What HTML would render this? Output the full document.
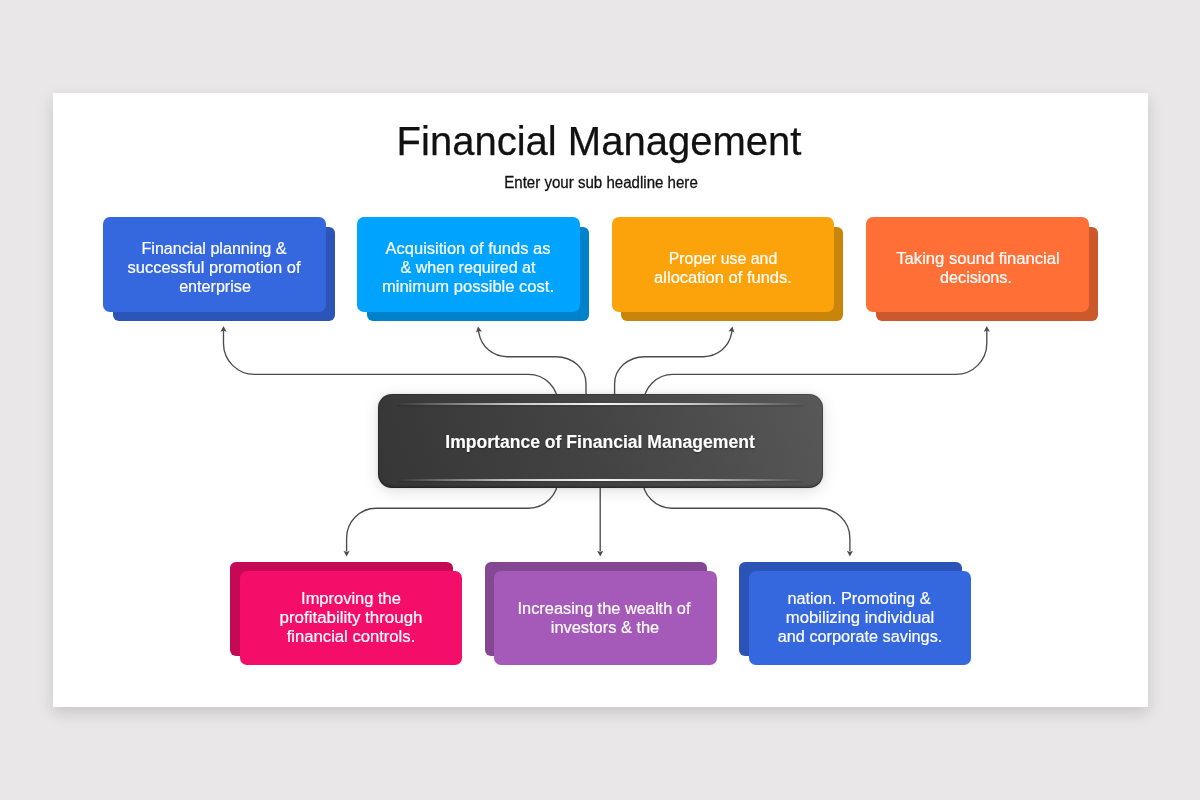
<!DOCTYPE html>
<html lang="en">
<head>
<meta charset="utf-8">
<title>Financial Management</title>
<style>
html,body{margin:0;padding:0;}
body{width:1200px;height:800px;background:#e9e7e8;position:relative;overflow:hidden;font-family:"Liberation Sans",sans-serif;}
.slide{position:absolute;left:53px;top:93px;width:1095px;height:614px;background:#fff;box-shadow:0 6px 15px rgba(0,0,0,.15);}
.abs{position:absolute;}
.box{position:absolute;border-radius:7px;}
.bk{border-radius:6px;}
.ln{position:absolute;white-space:nowrap;text-align:center;transform-origin:50% 50%;}
.texts{position:absolute;left:0;top:0;width:1200px;height:800px;will-change:transform;}
.center{position:absolute;left:378.2px;top:394.2px;width:444.7px;height:93.8px;border-radius:14px;background:linear-gradient(70deg,#363636 0%,#444444 50%,#585858 100%);box-shadow:0 3px 16px rgba(0,0,0,.13),0 0 3px rgba(0,0,0,.12),inset 0 0 0 1px rgba(0,0,0,.16),inset 0 -2px 2px rgba(0,0,0,.25);}
.hl{position:absolute;left:20px;right:20px;height:2px;background:linear-gradient(90deg,rgba(255,255,255,0),rgba(255,255,255,.7) 28%,rgba(255,255,255,.95) 50%,rgba(255,255,255,.7) 72%,rgba(255,255,255,0));box-shadow:0 1.5px 1.5px rgba(0,0,0,.14);}
</style>
</head>
<body>
<div class="slide"></div>

<!-- connectors -->
<svg class="abs" style="left:0;top:0" width="1200" height="800" viewBox="0 0 1200 800" fill="none" stroke="#4b4b4b" stroke-width="1.35">
  <path d="M223.5,330.5 V343.5 A31,31 0 0 0 254.5,374.4 H528.5 A29.5,29.5 0 0 1 558,403.9"/>
  <path d="M586,400 V383.7 A30,27 0 0 0 556,356.7 H507 A28.5,28.5 0 0 1 478.9,333.2 L478.4,330.5"/>
  <path d="M614.6,400 V383.7 A30,27 0 0 1 644.6,356.7 H703.5 A28.5,28.5 0 0 0 731.6,333.2 L732.1,330.5"/>
  <path d="M986.8,330.5 V343.5 A31,31 0 0 1 955.8,374.4 H673 A29.5,29.5 0 0 0 643.5,403.9"/>
  <path d="M346.6,551.5 V538 A29.5,29.8 0 0 1 376.1,508.2 H528.5 A29.5,29.5 0 0 0 558,478.7"/>
  <path d="M600.2,480 V551.5"/>
  <path d="M849.9,551.5 V538 A30.5,29.8 0 0 0 819.4,508.2 H672 A29.5,29.5 0 0 1 642.5,478.7"/>
  <g fill="#4b4b4b" stroke="none">
    <path transform="rotate(0 223.5 326.1)" d="M223.5,326.1 l3.05,5.7 l-3.05,-1.1 l-3.05,1.1z"/>
    <path transform="rotate(-10 478.0 326.4)" d="M478.0,326.4 l3.05,5.7 l-3.05,-1.1 l-3.05,1.1z"/>
    <path transform="rotate(10 732.4 326.4)" d="M732.4,326.4 l3.05,5.7 l-3.05,-1.1 l-3.05,1.1z"/>
    <path transform="rotate(0 986.8 326.1)" d="M986.8,326.1 l3.05,5.7 l-3.05,-1.1 l-3.05,1.1z"/>
    <path d="M346.6,556.6 l3.1,-5.8 l-3.1,1.1 l-3.1,-1.1z"/>
    <path d="M600.2,556.6 l3.1,-5.8 l-3.1,1.1 l-3.1,-1.1z"/>
    <path d="M849.9,556.6 l3.1,-5.8 l-3.1,1.1 l-3.1,-1.1z"/>
  </g>
</svg>

<!-- top row -->
<div class="box bk" style="left:112.7px;top:226.6px;width:222.2px;height:94.1px;background:#2c55b8"></div>
<div class="box" style="left:103.0px;top:217.1px;width:222.8px;height:94.7px;background:#3567de"></div>
<div class="box bk" style="left:367.0px;top:226.6px;width:222.2px;height:94.1px;background:#0081cc"></div>
<div class="box" style="left:357.3px;top:217.1px;width:222.8px;height:94.7px;background:#00a3fe"></div>
<div class="box bk" style="left:621.3px;top:226.6px;width:222.2px;height:94.1px;background:#c8850a"></div>
<div class="box" style="left:611.6px;top:217.1px;width:222.8px;height:94.7px;background:#fca20b"></div>
<div class="box bk" style="left:875.6px;top:226.6px;width:222.2px;height:94.1px;background:#cc592c"></div>
<div class="box" style="left:865.9px;top:217.1px;width:222.8px;height:94.7px;background:#ff6f36"></div>

<!-- center -->
<div class="center">
  <div class="hl" style="top:8.6px"></div>
  <div class="hl" style="top:84.8px"></div>
</div>

<!-- bottom row -->
<div class="box bk" style="left:230.2px;top:561.5px;width:222.6px;height:94px;background:#c40a55"></div>
<div class="box" style="left:239.5px;top:570.8px;width:222.5px;height:94.1px;background:#f50d6a"></div>
<div class="box bk" style="left:484.6px;top:561.5px;width:222.6px;height:94px;background:#844893"></div>
<div class="box" style="left:494.1px;top:570.8px;width:222.5px;height:94.1px;background:#a55ab9"></div>
<div class="box bk" style="left:739.1px;top:561.5px;width:222.6px;height:94px;background:#2b54b6"></div>
<div class="box" style="left:748.6px;top:570.8px;width:222.5px;height:94.1px;background:#3567de"></div>

<!-- text -->
<div class="texts">
<div class="ln" id="t" style="left:599.30px;top:116.84px;font-size:40px;line-height:48px;font-weight:normal;color:#111;transform:translateX(-50%) scaleX(1.0004);-webkit-text-stroke:0.25px #111">Financial Management</div>
<div class="ln" id="s" style="left:600.63px;top:172.86px;font-size:16px;line-height:19px;font-weight:normal;color:#111;transform:translateX(-50%) scaleX(0.9419);-webkit-text-stroke:0.3px #111">Enter your sub headline here</div>
<div class="ln" id="a1" style="left:213.91px;top:238.96px;font-size:16px;line-height:19px;font-weight:normal;color:#fff;transform:translateX(-50%) scaleX(1.0069);-webkit-text-stroke:0.2px #fff">Financial planning &amp;</div>
<div class="ln" id="a2" style="left:213.91px;top:257.96px;font-size:16px;line-height:19px;font-weight:normal;color:#fff;transform:translateX(-50%) scaleX(1.0287);-webkit-text-stroke:0.2px #fff">successful promotion of</div>
<div class="ln" id="a3" style="left:214.69px;top:276.96px;font-size:16px;line-height:19px;font-weight:normal;color:#fff;transform:translateX(-50%) scaleX(1.0079);-webkit-text-stroke:0.2px #fff">enterprise</div>
<div class="ln" id="b1" style="left:467.94px;top:238.96px;font-size:16px;line-height:19px;font-weight:normal;color:#fff;transform:translateX(-50%) scaleX(1.0293);-webkit-text-stroke:0.2px #fff">Acquisition of funds as</div>
<div class="ln" id="b2" style="left:467.69px;top:257.96px;font-size:16px;line-height:19px;font-weight:normal;color:#fff;transform:translateX(-50%) scaleX(1.0059);-webkit-text-stroke:0.2px #fff">&amp; when required at</div>
<div class="ln" id="b3" style="left:467.57px;top:276.96px;font-size:16px;line-height:19px;font-weight:normal;color:#fff;transform:translateX(-50%) scaleX(1.0354);-webkit-text-stroke:0.2px #fff">minimum possible cost.</div>
<div class="ln" id="c1" style="left:722.69px;top:248.96px;font-size:16px;line-height:19px;font-weight:normal;color:#fff;transform:translateX(-50%) scaleX(0.9921);-webkit-text-stroke:0.2px #fff">Proper use and</div>
<div class="ln" id="c2" style="left:723.27px;top:267.96px;font-size:16px;line-height:19px;font-weight:normal;color:#fff;transform:translateX(-50%) scaleX(1.0329);-webkit-text-stroke:0.2px #fff">allocation of funds.</div>
<div class="ln" id="d1" style="left:978.06px;top:248.96px;font-size:16px;line-height:19px;font-weight:normal;color:#fff;transform:translateX(-50%) scaleX(1.0379);-webkit-text-stroke:0.2px #fff">Taking sound financial</div>
<div class="ln" id="d2" style="left:975.95px;top:267.96px;font-size:16px;line-height:19px;font-weight:normal;color:#fff;transform:translateX(-50%) scaleX(1.0088);-webkit-text-stroke:0.2px #fff">decisions.</div>
<div class="ln" id="e1" style="left:350.84px;top:588.96px;font-size:16px;line-height:19px;font-weight:normal;color:#fff;transform:translateX(-50%) scaleX(1.0303);-webkit-text-stroke:0.2px #fff">Improving the</div>
<div class="ln" id="e2" style="left:350.62px;top:607.96px;font-size:16px;line-height:19px;font-weight:normal;color:#fff;transform:translateX(-50%) scaleX(1.0571);-webkit-text-stroke:0.2px #fff">profitability through</div>
<div class="ln" id="e3" style="left:350.77px;top:626.96px;font-size:16px;line-height:19px;font-weight:normal;color:#fff;transform:translateX(-50%) scaleX(1.0396);-webkit-text-stroke:0.2px #fff">financial controls.</div>
<div class="ln" id="f1" style="left:603.78px;top:598.96px;font-size:16px;line-height:19px;font-weight:normal;color:#fff;transform:translateX(-50%) scaleX(1.0235);-webkit-text-stroke:0.2px #fff">Increasing the wealth of</div>
<div class="ln" id="f2" style="left:604.81px;top:617.96px;font-size:16px;line-height:19px;font-weight:normal;color:#fff;transform:translateX(-50%) scaleX(1.0252);-webkit-text-stroke:0.2px #fff">investors &amp; the</div>
<div class="ln" id="g1" style="left:858.56px;top:588.96px;font-size:16px;line-height:19px;font-weight:normal;color:#fff;transform:translateX(-50%) scaleX(1.0184);-webkit-text-stroke:0.2px #fff">nation. Promoting &amp;</div>
<div class="ln" id="g2" style="left:859.93px;top:607.96px;font-size:16px;line-height:19px;font-weight:normal;color:#fff;transform:translateX(-50%) scaleX(1.0441);-webkit-text-stroke:0.2px #fff">mobilizing individual</div>
<div class="ln" id="g3" style="left:859.61px;top:626.96px;font-size:16px;line-height:19px;font-weight:normal;color:#fff;transform:translateX(-50%) scaleX(1.0166);-webkit-text-stroke:0.2px #fff">and corporate savings.</div>
<div class="ln" id="m" style="left:600.06px;top:430.96px;font-size:18px;line-height:22px;font-weight:bold;color:#fff;transform:translateX(-50%) scaleX(0.9761);text-shadow:0 1px 2px rgba(0,0,0,.45);-webkit-text-stroke:0.15px #fff">Importance of Financial Management</div>
</div>
</body>
</html>
